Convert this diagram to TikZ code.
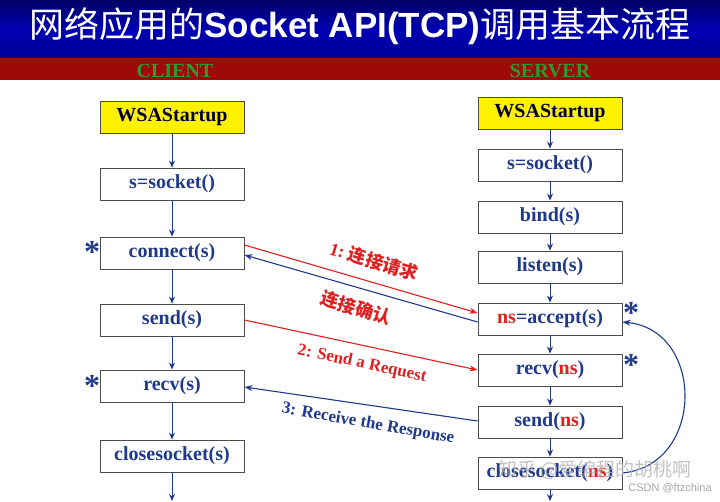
\documentclass[tikz,border=0pt]{standalone}
\usepackage{fontspec}
\setmainfont{Liberation Serif}
\newfontfamily\cjk{Noto Sans CJK SC}
\newfontfamily\hsans{Liberation Sans}
\usetikzlibrary{arrows.meta}
\definecolor{tb}{HTML}{1F3A8A}
\definecolor{tr}{HTML}{E02020}
\definecolor{band}{HTML}{9E0A0A}
\definecolor{gr}{HTML}{2E9A2E}
\begin{document}
\begin{tikzpicture}[x=1pt,y=-1pt,
  bx/.style={draw=black!70,line width=0.9pt,fill=white,minimum width=144pt,minimum height=32pt,inner sep=0pt,text=tb,font=\bfseries\fontsize{20}{20}\selectfont},
  yb/.style={bx,fill=yellow,text=black!80!blue},
  fl/.style={-{Stealth[length=7pt,width=6pt]},tb,line width=1pt},
  rl/.style={-{Stealth[length=8pt,width=6pt]},tr,line width=1.1pt},
  bl/.style={-{Stealth[length=8pt,width=6pt]},tb,line width=1.1pt},
  st/.style={text=tb,font=\bfseries\fontsize{32}{32}\selectfont}]
\useasboundingbox (0,0) rectangle (720,501);
\fill[white] (0,0) rectangle (720,501);
\shade[top color=blue!40!black, bottom color=blue!60!black, middle color=blue!70!black] (0,0) rectangle (720,58);
\fill[band] (0,58) rectangle (720,80);
\node[text=white] (title) at (360,26) {\fontsize{35}{35}\selectfont\cjk 网络应用的\hsans\bfseries Socket API(TCP)\cjk\mdseries 调用基本流程};
\node[text=gr,font=\bfseries\fontsize{20}{20}\selectfont] (cl) at (175,71) {CLIENT};
\node[text=gr,font=\bfseries\fontsize{20}{20}\selectfont] (sv) at (550,71) {SERVER};
% client
\node[yb] (c1) at (172,117) {WSAStartup};
\node[bx] (c2) at (172,184) {s=socket()};
\node[bx] (c3) at (172,253) {connect(s)};
\node[bx] (c4) at (172,320) {send(s)};
\node[bx] (c5) at (172,386) {recv(s)};
\node[bx] (c6) at (172,456) {closesocket(s)};
\coordinate (cend) at (172,501);
\foreach \a/\b in {c1/c2,c2/c3,c3/c4,c4/c5,c5/c6,c6/cend} \draw[fl] (\a) -- (\b);
% server
\node[yb] (s1) at (550,113) {WSAStartup};
\node[bx] (s2) at (550,165) {s=socket()};
\node[bx] (s3) at (550,217) {bind(s)};
\node[bx] (s4) at (550,267) {listen(s)};
\node[bx] (s5) at (550,319) {\textcolor{tr}{ns}=accept(s)};
\node[bx] (s6) at (550,370) {recv(\textcolor{tr}{ns})};
\node[bx] (s7) at (550,422) {send(\textcolor{tr}{ns})};
\node[bx] (s8) at (550,473) {closesocket(\textcolor{tr}{ns})};
\coordinate (send) at (550,501);
\foreach \a/\b in {s1/s2,s2/s3,s3/s4,s4/s5,s5/s6,s6/s7,s7/s8,s8/send} \draw[fl] (\a) -- (\b);
% stars
\node[st] (k1) at (92,252) {*};
\node[st] (k2) at (92,386) {*};
\node[st] (k3) at (631,313) {*};
\node[st] (k4) at (631,365) {*};
% messages
\draw[rl] ([yshift=8pt]c3.east) -- ([yshift=6pt]s5.west);
\draw[bl] ([yshift=-3pt]s5.west) -- ([yshift=-2pt]c3.east);
\draw[rl] (c4.east) -- (s6.west);
\draw[bl] ([yshift=1pt]s7.west) -- ([yshift=-1pt]c5.east);
\draw[bl] (s8.east) .. controls (705,465) and (705,330) .. ([yshift=-3pt]s5.east);
\node[text=tr,rotate=-17] (m1) at (374,261) {\fontsize{18}{18}\selectfont\bfseries 1:\ \cjk 连接请求};
\node[text=tr,rotate=-17] (m2) at (356,308) {\fontsize{18}{18}\selectfont\cjk\bfseries 连接确认};
\node[text=tr,rotate=-12,font=\bfseries\fontsize{17}{17}\selectfont] (m3) at (362,364) {2: Send a Request};
\node[text=tb,rotate=-10,font=\bfseries\fontsize{17}{17}\selectfont] (m4) at (368,424) {3: Receive the Response};
% watermark
\node[text=gray!60,opacity=0.8] (w1) at (595,470) {\fontsize{19}{19}\selectfont\cjk 知乎 @爱编程的胡桃啊};
\node[text=gray!70] (w2) at (670,488) {\hsans\fontsize{11}{11}\selectfont CSDN @ftzchina};
\end{tikzpicture}
\end{document}
